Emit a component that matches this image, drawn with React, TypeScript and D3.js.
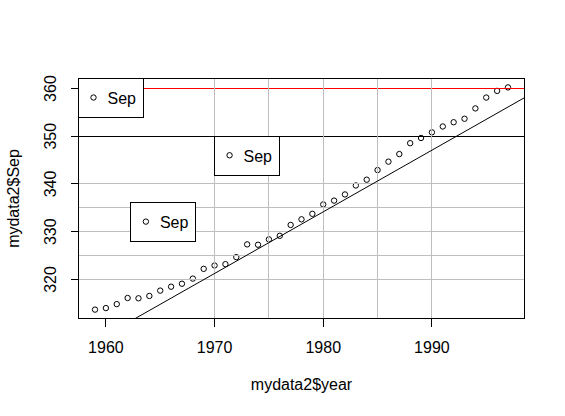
import React from 'react';
import * as d3 from 'd3';

const years = [1959, 1960, 1961, 1962, 1963, 1964, 1965, 1966, 1967, 1968, 1969, 1970, 1971, 1972, 1973, 1974, 1975, 1976, 1977, 1978, 1979, 1980, 1981, 1982, 1983, 1984, 1985, 1986, 1987, 1988, 1989, 1990, 1991, 1992, 1993, 1994, 1995, 1996, 1997];
const sep = [313.68, 314.0, 314.83, 316.11, 316.05, 316.54, 317.66, 318.48, 319.1, 320.18, 322.22, 322.93, 323.2, 324.68, 327.35, 327.27, 328.4, 329.14, 331.42, 332.6, 333.75, 335.72, 336.52, 337.81, 339.69, 340.9, 342.92, 344.68, 346.27, 348.55, 349.64, 350.82, 352.05, 352.94, 353.67, 355.84, 358.11, 359.51, 360.24];
const xTicks = [1960, 1970, 1980, 1990];
const yTicks = [320, 330, 340, 350, 360];
const gridX = [1970, 1975, 1980, 1985, 1990];
const gridY = [320, 325, 330, 335, 340];
const refRed = 360;
const refBlack = 350;
const fitIntercept = -2223.4;
const fitSlope = 1.2917;
const legendLabel = 'Sep';
const xLabel = 'mydata2$year';
const yLabel = 'mydata2$Sep';
// legend anchors in data coordinates (null = top-left of plot)
const legendAnchors: ([number, number] | null)[] = [null, [1970, 350], [1962.3, 336.1]];

const W = 565;
const H = 416;
const L = 78.5, R = 524.5, T = 78.5, B = 318.5;
const FONT = '"Liberation Sans", Arial, sans-serif';

function ext(vals: number[]): [number, number] {
  const [a, b] = d3.extent(vals) as [number, number];
  const d = (b - a) * 0.04;
  return [a - d, b + d];
}

export default function App() {
  const x = d3.scaleLinear().domain(ext(years)).range([L, R]);
  const y = d3.scaleLinear().domain(ext(sep)).range([B, T]);
  const [x0, x1] = x.domain();
  const fitLine = d3.line<number>().x((v) => x(v)).y((v) => y(fitIntercept + fitSlope * v));
  const legW = 65, legH = 39;
  const crisp = 'crispEdges';

  return (
    <svg width={W} height={H} style={{ position: 'absolute', left: 0, top: 0, background: '#fff' }} fontFamily={FONT}>
      <rect x={0} y={0} width={W} height={H} fill="#fff" />
      <defs>
        <clipPath id="plotclip">
          <rect x={L} y={T} width={R - L} height={B - T} />
        </clipPath>
      </defs>
      <g clipPath="url(#plotclip)">
        {sep.map((v, i) => (
          <circle key={i} cx={x(years[i])} cy={y(v)} r={2.7} fill="none" stroke="#000" strokeWidth={1} />
        ))}
        <line x1={L} x2={R} y1={y(refRed)} y2={y(refRed)} stroke="#ff0000" strokeWidth={1} shapeRendering={crisp} />
        <line x1={L} x2={R} y1={y(refBlack)} y2={y(refBlack)} stroke="#000" strokeWidth={1} shapeRendering={crisp} />
        {gridX.map((g) => (
          <line key={'gx' + g} x1={x(g)} x2={x(g)} y1={T} y2={B} stroke="#bebebe" strokeWidth={1} shapeRendering={crisp} />
        ))}
        {gridY.map((g) => (
          <line key={'gy' + g} x1={L} x2={R} y1={y(g)} y2={y(g)} stroke="#bebebe" strokeWidth={1} shapeRendering={crisp} />
        ))}
        <path d={fitLine([x0, x1]) || ''} fill="none" stroke="#000" strokeWidth={1} />
      </g>
      {legendAnchors.map((a, i) => {
        const lx = a ? x(a[0]) : L;
        const ly = a ? y(a[1]) : T;
        return (
          <g key={'leg' + i}>
            <rect x={lx} y={ly} width={legW} height={legH} fill="#fff" stroke="#000" strokeWidth={1} shapeRendering={crisp} />
            <circle cx={lx + 15} cy={ly + 19} r={2.7} fill="none" stroke="#000" strokeWidth={1} />
            <text x={lx + 29} y={ly + 25.8} fontSize={16} fill="#000">{legendLabel}</text>
          </g>
        );
      })}
      <rect x={L} y={T} width={R - L} height={B - T} fill="none" stroke="#000" strokeWidth={1} shapeRendering={crisp} />
      {xTicks.map((t) => (
        <g key={'xt' + t}>
          <line x1={x(t)} x2={x(t)} y1={B} y2={B + 8} stroke="#000" strokeWidth={1} shapeRendering={crisp} />
          <text x={x(t)} y={352.7} textAnchor="middle" fontSize={16} fill="#000">{t}</text>
        </g>
      ))}
      {yTicks.map((t) => (
        <g key={'yt' + t}>
          <line x1={L - 8} x2={L} y1={y(t)} y2={y(t)} stroke="#000" strokeWidth={1} shapeRendering={crisp} />
          <text transform={`translate(56,${y(t)}) rotate(-90)`} textAnchor="middle" fontSize={16} fill="#000">{t}</text>
        </g>
      ))}
      <text x={(L + R) / 2} y={390} textAnchor="middle" fontSize={16} fill="#000">{xLabel}</text>
      <text transform={`translate(19.3,${(T + B) / 2}) rotate(-90)`} textAnchor="middle" fontSize={16} fill="#000">{yLabel}</text>
    </svg>
  );
}
